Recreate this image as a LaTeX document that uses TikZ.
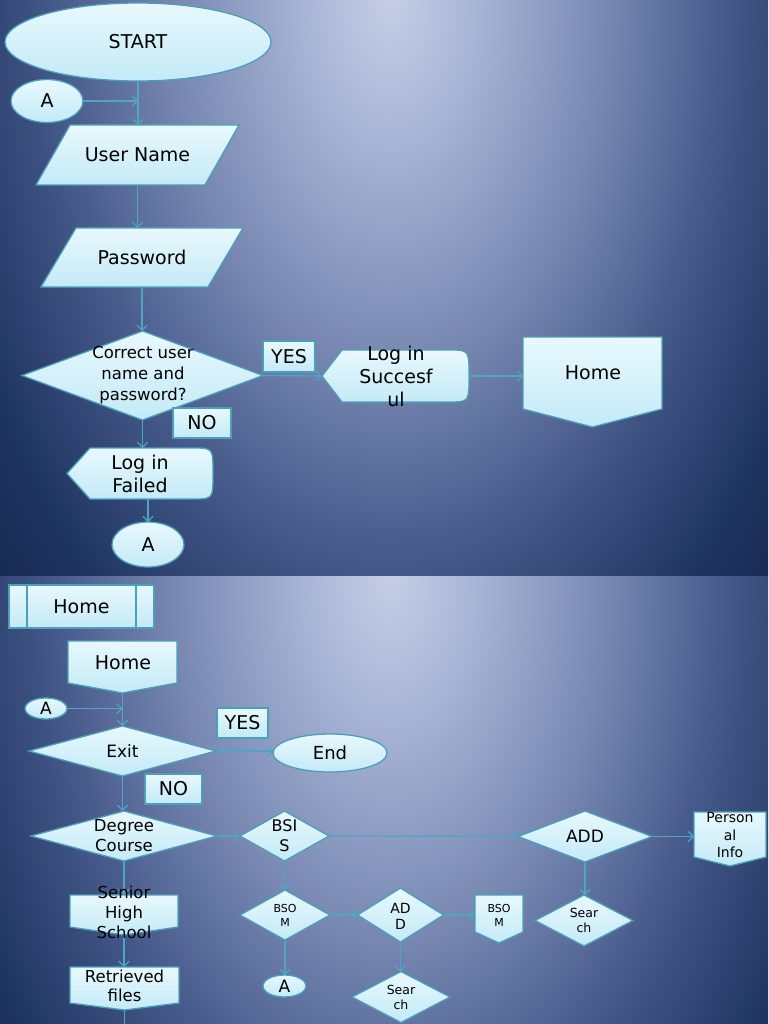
\documentclass[tikz,border=0pt]{standalone}
\usepackage{fontspec}
\setmainfont{DejaVu Sans}
\usetikzlibrary{shapes.geometric,arrows.meta,calc}
\definecolor{bgL}{HTML}{C6CEE5}
\definecolor{bgLb}{HTML}{A9B5D6}
\definecolor{bgM}{HTML}{7888B2}
\definecolor{bgMb}{HTML}{45598A}
\definecolor{bgD}{HTML}{1F3561}
\definecolor{bgDD}{HTML}{0C1D40}
\definecolor{nodeT}{HTML}{E8F8FD}
\definecolor{nodeB}{HTML}{C3EAF7}
\definecolor{edgec}{HTML}{4A9FBA}
\definecolor{connc}{HTML}{4FA6C2}
\pgfdeclareradialshading{slidebg}{\pgfpoint{0bp}{0bp}}{color(0bp)=(bgL); color(3.5bp)=(bgLb); color(9bp)=(bgM); color(14bp)=(bgMb); color(19bp)=(bgD); color(25bp)=(bgDD); color(50bp)=(bgDD)}
\pgfdeclarelayer{bgl}
\pgfdeclarelayer{conl}
\pgfsetlayers{bgl,conl,main}
\newcommand\fs[2]{\fontsize{#1}{#2}\selectfont}
\newcommand\mkpara[2]{\path[shp] ($(#1.north west)+(#2,0)$) -- (#1.north east) -- ($(#1.south east)+(-#2,0)$) -- (#1.south west) -- cycle;}
\newcommand\mkoff[2]{\path[shp] (#1.north west) -- (#1.north east) -- ($(#1.south east)+(0,-#2)$) -- (#1.south) -- ($(#1.south west)+(0,-#2)$) -- cycle;}
\newcommand\mkdisp[2]{\path[shp] (#1.west) -- ($(#1.north west)+(#2,0)$) -- ($(#1.north east)+(-20,0)$) .. controls (#1.north east) .. (#1.east) .. controls (#1.south east) .. ($(#1.south east)+(-20,0)$) -- ($(#1.south west)+(#2,0)$) -- cycle;}
\tikzset{
  shp/.style={draw=edgec, line width=1.3pt, top color=nodeT, bottom color=nodeB},
  sz/.style 2 args={minimum width=#1pt, minimum height=#2pt},
  ell/.style={shp, ellipse, inner sep=0pt, outer sep=0pt},
  dia/.style={shp, diamond, inner sep=0pt, outer sep=0pt},
  lab/.style={shp, rectangle, inner sep=0pt, outer sep=0pt},
  frame/.style={rectangle, draw=none, inner sep=0pt, outer sep=0pt},
  txt/.style={align=center, inner sep=0pt, text=black},
  conn/.style={draw=connc, line width=1.2pt, -{Straight Barb[length=5pt,width=10pt]}},
  plain/.style={draw=connc, line width=1.2pt},
}
\begin{document}
\begin{tikzpicture}[x=1pt,y=-1pt]
\useasboundingbox (0,0) rectangle (768,1024);
\begin{pgfonlayer}{bgl}
  \fill[bgDD] (0,0) rectangle (768,1024);
  \begin{scope}
    \clip (0,0) rectangle (768,575.5);
    \shade[shading=slidebg] (390,0) ellipse [x radius=600, y radius=1000];
  \end{scope}
  \begin{scope}
    \clip (0,576) rectangle (768,1024);
    \shade[shading=slidebg] (390,576) ellipse [x radius=600, y radius=1000];
  \end{scope}
\end{pgfonlayer}

% ---------------- top slide ----------------
\node[ell, sz={266}{78}, font=\fs{19}{23}] (start) at (138,42) {START};
\node[ell, sz={72}{43}, font=\fs{19}{23}] (a1) at (47,101) {A};

\node[frame, sz={203}{60}] (user) at (137.5,155) {};
\mkpara{user}{34}
\node[txt, font=\fs{19}{23}] (userT) at (user) {User Name};

\node[frame, sz={202}{59}] (pass) at (142,257.5) {};
\mkpara{pass}{35}
\node[txt, font=\fs{19}{23}] (passT) at (pass) {Password};

\node[dia, sz={241}{89}] (cond) at (142.5,375.5) {};
\node[txt, font=\fs{16.5}{21}] (condT) at (143,375) {Correct user\\name and\\password?};

\node[lab, sz={52}{31}, font=\fs{19}{23}] (yes1) at (289,356.5) {YES};

\node[frame, sz={147}{52}] (succ) at (395.5,376) {};
\mkdisp{succ}{20}
\node[txt, font=\fs{19}{23}] (succT) at (396,376) {Log in\\Succesf\\ul};

\node[frame, sz={139}{90}] (home1) at (592.5,382) {};
\mkoff{home1}{18}
\node[txt, font=\fs{19}{23}] (home1T) at (593,373) {Home};

\node[lab, sz={58}{30}, font=\fs{19}{23}] (no1) at (202,423) {NO};

\node[frame, sz={146}{51}] (fail) at (140,473.5) {};
\mkdisp{fail}{23}
\node[txt, font=\fs{19}{23}] (failT) at (140,474) {Log in\\Failed};

\node[ell, sz={72}{45}, font=\fs{19}{23}] (a2) at (148,544.5) {A};

% ---------------- bottom slide ----------------
\node[lab, sz={145}{43}, font=\fs{19}{23}] (homeP) at (81.5,606.5) {Home};
\draw[draw=edgec, line width=1.3pt] ($(homeP.north west)+(18,0)$) -- ($(homeP.south west)+(18,0)$)
  ($(homeP.north east)+(-18,0)$) -- ($(homeP.south east)+(-18,0)$);

\node[frame, sz={109}{52}] (home2) at (122.5,667) {};
\mkoff{home2}{10}
\node[txt, font=\fs{19}{23}] (home2T) at (123,663) {Home};

\node[ell, sz={42}{21}, font=\fs{17}{20}] (a3) at (46,708.5) {A};

\node[dia, sz={187}{50}] (exit) at (122.5,751) {};
\node[txt, font=\fs{17}{20}] (exitT) at (exit) {Exit};

\node[lab, sz={51}{30}, font=\fs{19}{23}] (yes2) at (242.5,723) {YES};
\node[ell, sz={114}{38}, font=\fs{18}{22}] (end) at (330,753) {End};
\node[lab, sz={57}{30}, font=\fs{19}{23}] (no2) at (173.5,789) {NO};

\node[dia, sz={186}{50}] (degree) at (124,836) {};
\node[txt, font=\fs{16.5}{20}] (degreeT) at (degree) {Degree\\Course};

\node[dia, sz={89}{50}] (bsis) at (284.5,836) {};
\node[txt, font=\fs{16}{20}] (bsisT) at (bsis) {BSI\\S};

\node[dia, sz={134}{51}] (add1) at (585,836.5) {};
\node[txt, font=\fs{17}{20}] (add1T) at (add1) {ADD};

\node[frame, sz={72}{54}] (pers) at (730,839) {};
\mkoff{pers}{9}
\node[txt, font=\fs{14}{17.5}] (persT) at (730,835) {Person\\al\\Info};

\node[frame, sz={108}{40}] (senior) at (124,915) {};
\mkoff{senior}{8}
\node[txt, font=\fs{16.5}{20}] (seniorT) at (124,912) {Senior\\High\\School};

\node[frame, sz={109}{43}] (retr) at (124.5,988.5) {};
\mkoff{retr}{7}
\node[txt, font=\fs{16.5}{19}] (retrT) at (124.5,986) {Retrieved\\files};
\coordinate (retrEnd) at (124.5,1024);

\node[dia, sz={98}{51}] (search1) at (584,920.5) {};
\node[txt, font=\fs{12.5}{15}] (search1T) at (search1) {Sear\\ch};

\node[dia, sz={90}{50}] (bsom1) at (285,915) {};
\node[txt, font=\fs{11}{14}] (bsom1T) at (bsom1) {BSO\\M};

\node[dia, sz={86}{54}] (add2) at (400.5,915) {};
\node[txt, font=\fs{14}{16}] (add2T) at (400.5,916) {AD\\D};

\node[frame, sz={48}{48}] (bsom2) at (499,919) {};
\mkoff{bsom2}{11}
\node[txt, font=\fs{11}{14}] (bsom2T) at (499,915) {BSO\\M};

\node[ell, sz={43}{22}, font=\fs{17}{20}] (a4) at (284.5,986) {A};

\node[dia, sz={98}{51}] (search2) at (401,997) {};
\node[txt, font=\fs{12.5}{15}] (search2T) at (search2) {Sear\\ch};

% ---------------- connectors ----------------
\begin{pgfonlayer}{conl}
  \draw[conn] (start.south) -- (start.south |- user.north);
  \draw[conn] (a1.east) -- (a1.east -| start.south);
  \draw[conn] (user.south) -- (user.south |- pass.north);
  \draw[conn] (pass.south) -- (pass.south |- cond.north);
  \draw[conn] (cond.east) -- (succ.west);
  \draw[conn] (succ.east) -- (succ.east -| home1.west);
  \draw[conn] (cond.south) -- (cond.south |- fail.north);
  \draw[conn] (a2.north |- fail.south) -- (a2.north);

  \draw[conn] (home2.south) -- (home2.south |- exit.north);
  \draw[conn] (a3.east) -- (a3.east -| home2.south);
  \draw[conn] (exit.east) -- (exit.east -| end.west);
  \draw[conn] (exit.south) -- (exit.south |- degree.north);
  \draw[conn] (degree.east) -- (bsis.west);
  \draw[conn] (bsis.east) -- (add1.west);
  \draw[conn] (add1.east) -- (add1.east -| pers.west);
  \draw[conn] (degree.south) -- (degree.south |- senior.north);
  \draw[conn] (senior.south) -- (senior.south |- retr.north);
  \draw[plain] (retr.south) -- (retrEnd);
  \draw[conn] (bsis.south) -- (bsis.south |- bsom1.north);
  \draw[conn] (bsom1.east) -- (add2.west);
  \draw[conn] (add2.east) -- (add2.east -| bsom2.west);
  \draw[conn] (add2.south) -- (add2.south |- search2.north);
  \draw[conn] (bsom1.south) -- (bsom1.south |- a4.north);
  \draw[conn] (add1.south) -- (add1.south |- search1.north);
\end{pgfonlayer}
\end{tikzpicture}
\end{document}
